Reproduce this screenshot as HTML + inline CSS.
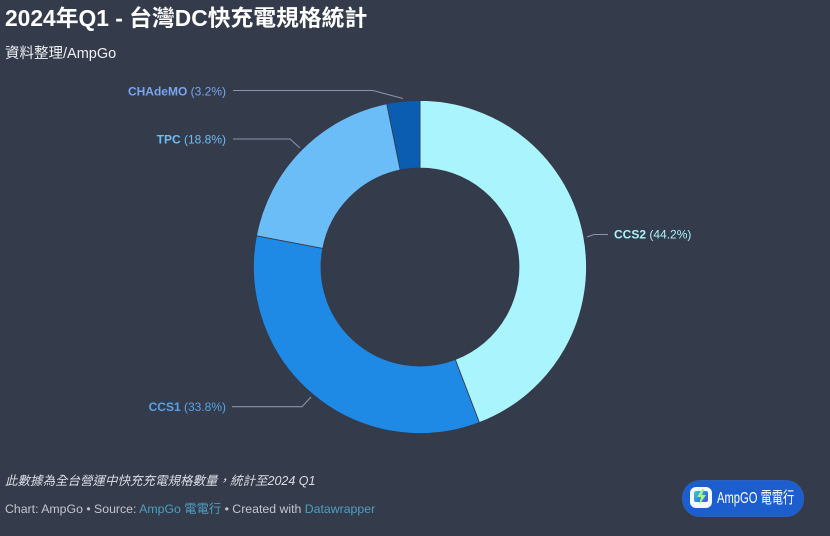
<!DOCTYPE html>
<html><head><meta charset="utf-8">
<style>
html,body{margin:0;padding:0;}
body{width:830px;height:536px;background:#343b4a;overflow:hidden;position:relative;font-family:"Liberation Sans","Noto Sans CJK TC",sans-serif;}
.t{position:absolute;white-space:nowrap;}
</style></head><body>
<div class="t" style="left:5px;top:4px;font-size:22.8px;font-weight:bold;color:#ffffff;line-height:28px;">2024年Q1 - 台灣DC快充電規格統計</div>
<div class="t" style="left:5px;top:45px;font-size:14.5px;color:#eef0f4;line-height:18px;">資料整理/AmpGo</div>

<svg width="830" height="536" style="position:absolute;left:0;top:0;" xmlns="http://www.w3.org/2000/svg">
  <g stroke="#343b4a" stroke-width="0.8">
    <path d="M420,100.5 A166.5,166.5 0 0 1 479.34,422.56 L455.28,359.5 A99,99 0 0 0 420,168 Z" fill="#aaf4fd"/>
    <path d="M479.34,422.56 A166.5,166.5 0 0 1 256.45,235.8 L322.75,248.45 A99,99 0 0 0 455.28,359.5 Z" fill="#1f8ae6"/>
    <path d="M256.45,235.8 A166.5,166.5 0 0 1 386.75,103.85 L400.23,170 A99,99 0 0 0 322.75,248.45 Z" fill="#6bbdf8"/>
    <path d="M386.75,103.85 A166.5,166.5 0 0 1 420,100.5 L420,168 A99,99 0 0 0 400.23,170 Z" fill="#0b5db2"/>
  </g>
  <g fill="none" stroke="#8a94a8" stroke-width="1.1">
    <path d="M233,90.5 H373 L403,98.5"/>
    <path d="M233,139 H290 L300,148"/>
    <path d="M232,406.7 H302 L311,397"/>
    <path d="M587,237 L594,234.5 H608"/>
  </g>
  <g font-family="Liberation Sans, sans-serif" font-size="12">
    <text x="226" y="95.5" text-anchor="end" fill="#78a6ef"><tspan font-weight="bold">CHAdeMO</tspan> (3.2%)</text>
    <text x="226" y="143.5" text-anchor="end" fill="#6dbdf7"><tspan font-weight="bold">TPC</tspan> (18.8%)</text>
    <text x="614" y="238.5" fill="#aaf2fc"><tspan font-weight="bold">CCS2</tspan> (44.2%)</text>
    <text x="226" y="411" text-anchor="end" fill="#56a3ea"><tspan font-weight="bold">CCS1</tspan> (33.8%)</text>
  </g>
</svg>

<div class="t" style="left:5px;top:473px;font-size:12.5px;font-style:italic;color:#d9dde4;line-height:16px;">此數據為全台營運中快充充電規格數量，統計至2024 Q1</div>
<div class="t" style="left:5px;top:501px;font-size:12.3px;color:#c2c6ce;line-height:16px;">Chart: AmpGo • Source: <span style="color:#4f9fc2;">AmpGo 電電行</span> • Created with <span style="color:#4f9fc2;">Datawrapper</span></div>

<div style="position:absolute;left:682px;top:480px;width:120px;height:35px;border-radius:18px;background:#1d5ecf;border:1px solid #2b5fb8;"></div>
<div style="position:absolute;left:690px;top:487px;width:22px;height:21px;border-radius:6px;background:#f4f7fb;"></div>
<div style="position:absolute;left:694px;top:491px;width:14px;height:11px;border-radius:2px;background:linear-gradient(135deg,#3ad0c8,#2f7de0 60%,#5a4fd8);"></div>
<svg width="830" height="536" style="position:absolute;left:0;top:0;" xmlns="http://www.w3.org/2000/svg">
  <path d="M702,489 L697,497 L701,497 L699,505 L706,495 L702,495 L704,489 Z" fill="#a6f28a"/>
</svg>
<div class="t" style="left:717px;top:489px;font-size:16px;color:#ffffff;line-height:20px;transform:scaleX(0.7);transform-origin:0 50%;">AmpGO 電電行</div>
</body></html>
